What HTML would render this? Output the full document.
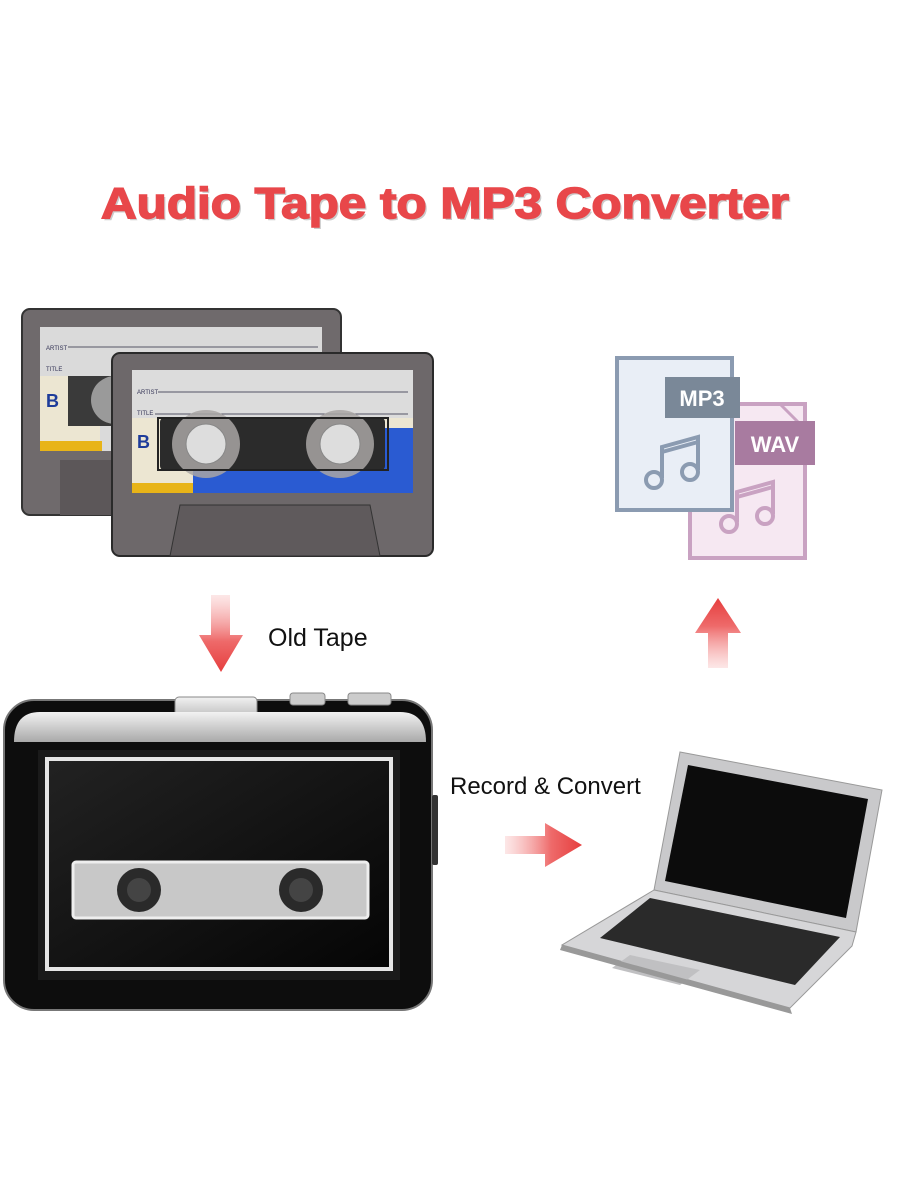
<!DOCTYPE html>
<html><head><meta charset="utf-8"><style>
html,body{margin:0;padding:0;background:#fff;}
svg{display:block;}
</style></head><body>
<svg width="900" height="1199" viewBox="0 0 900 1199" xmlns="http://www.w3.org/2000/svg" font-family="Liberation Sans, sans-serif">
<defs>
<linearGradient id="gd" x1="0" y1="0" x2="0" y2="1"><stop offset="0" stop-color="#f7b0b0" stop-opacity="0.3"/><stop offset="0.6" stop-color="#ee6a6a"/><stop offset="1" stop-color="#e63e3e"/></linearGradient>
<linearGradient id="gu" x1="0" y1="1" x2="0" y2="0"><stop offset="0" stop-color="#f7b0b0" stop-opacity="0.3"/><stop offset="0.6" stop-color="#ee6a6a"/><stop offset="1" stop-color="#e63e3e"/></linearGradient>
<linearGradient id="gr" x1="0" y1="0" x2="1" y2="0"><stop offset="0" stop-color="#f7b0b0" stop-opacity="0.3"/><stop offset="0.6" stop-color="#ee6a6a"/><stop offset="1" stop-color="#e63e3e"/></linearGradient>
<linearGradient id="silver" x1="0" y1="0" x2="0" y2="1"><stop offset="0" stop-color="#f2f2f2"/><stop offset="1" stop-color="#a9a9a9"/></linearGradient>
<linearGradient id="scr" x1="0" y1="0" x2="1" y2="1"><stop offset="0" stop-color="#222"/><stop offset="1" stop-color="#050505"/></linearGradient>
</defs>

<!-- Title -->
<text x="447" y="220" text-anchor="middle" font-size="44" font-weight="bold" fill="#999" opacity="0.5" textLength="688" lengthAdjust="spacingAndGlyphs">Audio Tape to MP3 Converter</text>
<text x="445" y="218" text-anchor="middle" font-size="44" font-weight="bold" fill="#e8474a" stroke="#e8474a" stroke-width="1.5" textLength="688" lengthAdjust="spacingAndGlyphs">Audio Tape to MP3 Converter</text>

<!-- Back cassette -->
<rect x="22" y="309" width="319" height="206" rx="8" fill="#6f6a6c" stroke="#333" stroke-width="2"/>
<rect x="40" y="327" width="282" height="124" fill="#dadada"/>
<line x1="68" y1="347" x2="318" y2="347" stroke="#556" stroke-width="1"/>
<text x="46" y="350" font-size="6" fill="#335">ARTIST</text>
<text x="46" y="371" font-size="6" fill="#335">TITLE</text>
<rect x="40" y="376" width="60" height="75" fill="#ece6d2"/>
<rect x="40" y="441" width="62" height="10" fill="#e8b418"/>
<text x="46" y="407" font-size="18" font-weight="bold" fill="#1e3c9a">B</text>
<rect x="68" y="376" width="50" height="50" fill="#3a3a3a"/>
<circle cx="115" cy="400" r="24" fill="#9a9a9a"/>
<rect x="60" y="460" width="230" height="55" fill="#5c5759"/>

<!-- Front cassette -->
<rect x="112" y="353" width="321" height="203" rx="8" fill="#6d686a" stroke="#2a2a2a" stroke-width="2"/>
<rect x="132" y="370" width="281" height="123" fill="#dcdcdc"/>
<text x="137" y="394" font-size="6" fill="#335">ARTIST</text>
<line x1="158" y1="392" x2="408" y2="392" stroke="#556" stroke-width="1"/>
<text x="137" y="415" font-size="6" fill="#335">TITLE</text>
<line x1="155" y1="414" x2="408" y2="414" stroke="#556" stroke-width="1"/>
<rect x="132" y="418" width="281" height="75" fill="#ece6d2"/>
<rect x="193" y="428" width="220" height="65" fill="#2a5bd2"/>
<rect x="132" y="483" width="61" height="10" fill="#e8b418"/>
<text x="137" y="448" font-size="18" font-weight="bold" fill="#1e3c9a">B</text>
<rect x="160" y="418" width="225" height="52" rx="4" fill="#2b2b2b"/>
<circle cx="206" cy="444" r="34" fill="#a9a6a4" opacity="0.85"/>
<circle cx="206" cy="444" r="20" fill="#ddd" stroke="#888"/>
<circle cx="340" cy="444" r="34" fill="#a9a6a4" opacity="0.85"/>
<circle cx="340" cy="444" r="20" fill="#ddd" stroke="#888"/>
<rect x="158" y="418" width="230" height="52" fill="none" stroke="#222" stroke-width="2"/>
<path d="M170 556 L180 505 L370 505 L380 556 Z" fill="#5f5a5c" stroke="#333"/>

<!-- Down arrow -->
<path d="M211 595 H230 V635 H243 L221 672 L199 635 H211 Z" fill="url(#gd)"/>
<text x="268" y="646" font-size="25" fill="#111">Old Tape</text>

<!-- Player -->
<rect x="4" y="700" width="428" height="310" rx="30" fill="#0d0d0d" stroke="#777" stroke-width="2"/>
<rect x="175" y="697" width="82" height="28" rx="4" fill="url(#silver)" stroke="#888"/>
<rect x="290" y="693" width="35" height="12" rx="3" fill="#ccc" stroke="#888"/>
<rect x="348" y="693" width="43" height="12" rx="3" fill="#ccc" stroke="#888"/>
<path d="M14 742 Q14 712 40 712 H400 Q426 712 426 742 Z" fill="url(#silver)"/>
<rect x="38" y="750" width="362" height="230" fill="#1a1a1a"/>
<rect x="47" y="759" width="344" height="210" fill="url(#scr)" stroke="#e5e5e5" stroke-width="4"/>
<rect x="73" y="862" width="295" height="56" rx="3" fill="#c8c8c8" stroke="#eee" stroke-width="3"/>
<circle cx="139" cy="890" r="22" fill="#2a2a2a"/><circle cx="139" cy="890" r="12" fill="#444"/>
<circle cx="301" cy="890" r="22" fill="#2a2a2a"/><circle cx="301" cy="890" r="12" fill="#444"/>
<rect x="432" y="795" width="6" height="70" rx="2" fill="#333"/>

<!-- Right arrow -->
<path d="M505 836 H545 V823 L582 845 L545 867 V854 H505 Z" fill="url(#gr)"/>
<text x="450" y="794" font-size="24" fill="#111">Record &amp; Convert</text>

<!-- Up arrow -->
<path d="M708 668 V633 H695 L718 598 L741 633 H728 V668 Z" fill="url(#gu)"/>

<!-- Files -->
<rect x="690" y="404" width="115" height="154" fill="#f6e8f2" stroke="#c9a2c2" stroke-width="4"/>
<path d="M780 404 L805 429" stroke="#c9a2c2" stroke-width="3"/>
<rect x="617" y="358" width="115" height="152" fill="#e9eef6" stroke="#8b9bb1" stroke-width="4"/>
<rect x="735" y="421" width="80" height="44" fill="#a87ba0"/>
<text x="775" y="452" text-anchor="middle" font-size="22" font-weight="bold" fill="#fff">WAV</text>
<rect x="665" y="377" width="75" height="41" fill="#7a8898"/>
<text x="702" y="406" text-anchor="middle" font-size="22" font-weight="bold" fill="#fff">MP3</text>
<g fill="none" stroke="#8b9bb1" stroke-width="4">
<path d="M662 478 V447 L698 437 V470"/><line x1="662" y1="452" x2="698" y2="442"/>
<circle cx="654" cy="480" r="8"/><circle cx="690" cy="472" r="8"/>
</g>
<g fill="none" stroke="#c9a2c2" stroke-width="4">
<path d="M737 522 V492 L773 482 V514"/><line x1="737" y1="497" x2="773" y2="487"/>
<circle cx="729" cy="524" r="8"/><circle cx="765" cy="516" r="8"/>
</g>

<!-- Laptop -->
<path d="M680 752 L882 790 L856 932 L654 890 Z" fill="#c9c9cb" stroke="#999"/>
<path d="M688 765 L868 799 L846 918 L665 881 Z" fill="#0c0c0c"/>
<path d="M654 890 L856 932 L852 946 L790 1008 L562 945 Z" fill="#d6d6d8" stroke="#999"/>
<path d="M650 898 L840 937 L795 985 L600 938 Z" fill="#2a2a2a"/>
<path d="M630 955 L700 970 L680 985 L612 968 Z" fill="#c0c0c2"/>
<path d="M562 945 L790 1008 L792 1014 L560 950 Z" fill="#999"/>
</svg>
</body></html>
